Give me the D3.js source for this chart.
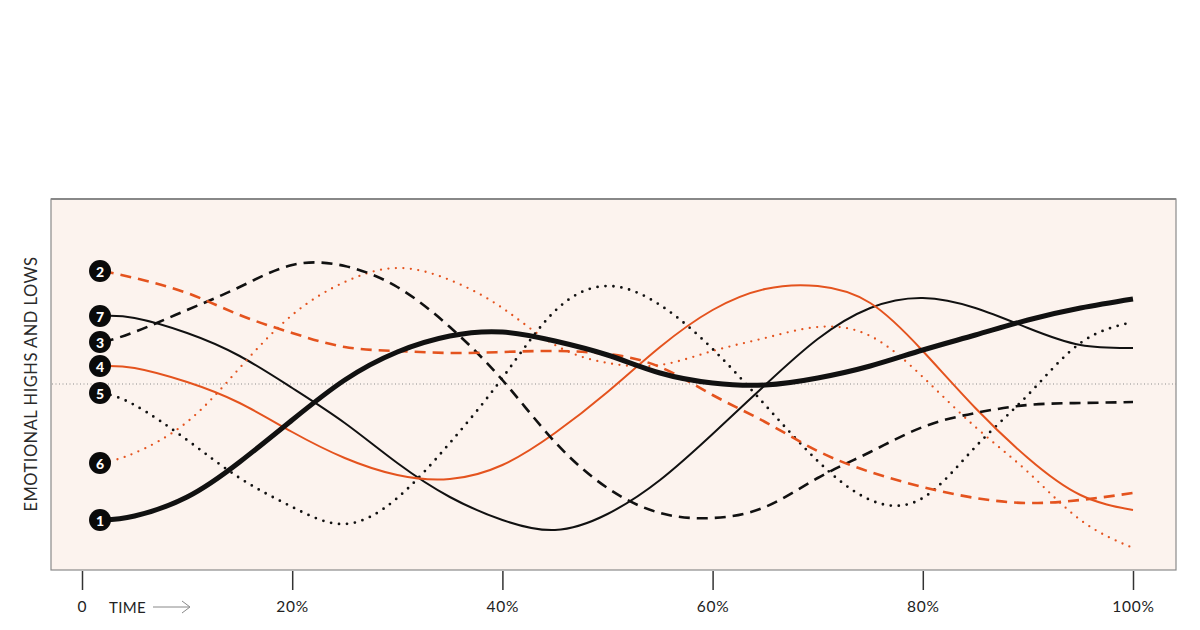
<!DOCTYPE html>
<html>
<head>
<meta charset="utf-8">
<script src="https://cdn.jsdelivr.net/npm/d3@7"></script>
<style>
  html, body { margin: 0; padding: 0; background: #ffffff; }
  svg { display: block; }
  text { font-family: Lato, "Noto Sans", sans-serif; }
</style>
</head>
<body>
<svg id="chart" width="1200" height="630"></svg>
<script>
// ---- data (time in % of story, emotional score; 0 = neutral) ----
const timePoints = [2, 5, 10, 15, 20, 25, 30, 35, 40, 45, 50, 55, 60, 65, 70, 75, 80, 85, 90, 95, 100];

const series1 = [-13.6, -13.2, -11.3, -7.8, -3.6, 0.4, 3.2, 4.8, 5.2, 4.3, 2.9, 1.1, 0.1, -0.1, 0.6, 1.8, 3.4, 4.9, 6.4, 7.6, 8.5];
const series2 = [11.3, 10.6, 9.1, 6.9, 5.1, 3.7, 3.3, 3.1, 3.2, 3.3, 3.0, 1.7, -1.1, -3.8, -6.7, -8.8, -10.3, -11.4, -11.9, -11.6, -10.9];
const series3 = [4.2, 5.2, 7.4, 9.7, 11.9, 11.8, 9.7, 5.7, 0.4, -5.8, -10.4, -12.9, -13.4, -12.3, -9.4, -6.8, -4.3, -2.9, -2.1, -1.9, -1.8];
const series4 = [1.8, 1.6, 0.2, -1.9, -4.8, -7.4, -9.1, -9.5, -8.1, -4.9, -0.8, 3.7, 7.4, 9.5, 9.8, 8.1, 3.3, -2.4, -7.4, -11.1, -12.6];
const series5 = [-0.9, -2.1, -5.6, -9.4, -12.3, -14.0, -11.4, -5.9, 0.6, 7.3, 9.8, 7.9, 3.5, -2.1, -7.7, -11.6, -11.4, -6.3, -1.1, 4.1, 6.2];
const series6 = [-7.9, -6.9, -3.8, 1.6, 6.9, 10.2, 11.6, 10.4, 7.6, 3.9, 2.1, 1.9, 3.3, 4.6, 5.7, 4.8, 0.7, -4.3, -8.8, -13.6, -16.4];
const series7 = [6.8, 6.6, 5.1, 2.8, -0.4, -3.9, -7.9, -11.3, -13.6, -14.6, -13.0, -9.6, -5.0, -0.1, 4.5, 7.6, 8.6, 7.6, 5.6, 3.9, 3.6];

const seriesLabels = ["1", "2", "3", "4", "5", "6", "7"];
const tickValues = [0, 20, 40, 60, 80, 100];
const tickLabels = ["0", "20%", "40%", "60%", "80%", "100%"];
const yAxisTitle = "EMOTIONAL HIGHS AND LOWS";
const xAxisTitle = "TIME";

// ---- styling (kept separate from data) ----
const BLACK = "#111111";
const ORANGE = "#e4531e";
const styles = {
  "1": { color: BLACK, width: 5, dash: null, cap: "butt" },
  "2": { color: ORANGE, width: 2.6, dash: "11,7", cap: "butt" },
  "3": { color: BLACK, width: 2.6, dash: "11,7", cap: "butt" },
  "4": { color: ORANGE, width: 2, dash: null, cap: "butt" },
  "5": { color: BLACK, width: 2.8, dash: "0,8", cap: "round" },
  "6": { color: ORANGE, width: 2.3, dash: "0,7.5", cap: "round" },
  "7": { color: BLACK, width: 2, dash: null, cap: "butt" }
};
const allSeries = [series1, series2, series3, series4, series5, series6, series7];

const svg = d3.select("#chart");

// panel
const panel = { left: 51, right: 1176, top: 199, bottom: 570 };

const x = d3.scaleLinear().domain([0, 100]).range([82, 1133]);
const y = d3.scaleLinear().domain([-18.6, 18.5]).range([panel.bottom, panel.top]);

svg.append("rect")
  .attr("x", panel.left).attr("y", panel.top)
  .attr("width", panel.right - panel.left).attr("height", panel.bottom - panel.top)
  .attr("fill", "#fcf3ee")
  .attr("stroke", "#8a8a8a").attr("stroke-width", 1.2);
svg.append("line")
  .attr("x1", panel.left).attr("x2", panel.right)
  .attr("y1", panel.top).attr("y2", panel.top)
  .attr("stroke", "#888").attr("stroke-width", 2);

// neutral line
svg.append("line")
  .attr("x1", panel.left + 1).attr("x2", panel.right)
  .attr("y1", y(0)).attr("y2", y(0))
  .attr("stroke", "#8c8c8c").attr("stroke-width", 1)
  .attr("stroke-dasharray", "1,2.5");

// x axis
const xAxis = d3.axisBottom(x)
  .tickValues(tickValues)
  .tickSize(19)
  .tickPadding(11)
  .tickFormat((d, i) => tickLabels[i]);
const gx = svg.append("g")
  .attr("transform", `translate(0,${panel.bottom + 1})`)
  .call(xAxis);
gx.select(".domain").remove();
gx.selectAll(".tick line").attr("stroke", "#333").attr("stroke-width", 1.5);
gx.selectAll(".tick text")
  .attr("fill", "#222")
  .style("font-size", "15.5px")
  .style("font-weight", "400")
  .style("letter-spacing", "0.8px");

// TIME label with arrow
svg.append("text")
  .attr("x", 109).attr("y", 613)
  .attr("fill", "#222")
  .style("font-size", "15px")
  .style("letter-spacing", "0.3px")
  .text(xAxisTitle);
svg.append("line")
  .attr("x1", 153).attr("x2", 189)
  .attr("y1", 607).attr("y2", 607)
  .attr("stroke", "#888").attr("stroke-width", 1);
svg.append("path")
  .attr("d", "M182,601 L190,607 L182,613")
  .attr("fill", "none")
  .attr("stroke", "#888").attr("stroke-width", 1);

// y axis title
svg.append("text")
  .attr("transform", `translate(37,${y(0)}) rotate(-90)`)
  .attr("text-anchor", "middle")
  .attr("fill", "#2a2a2a")
  .style("font-size", "16.5px")
  .style("font-weight", "400")
  .style("letter-spacing", "0.5px")
  .text(yAxisTitle);

// lines
const line = d3.line()
  .x((d, i) => x(timePoints[i]))
  .y(d => y(d))
  .curve(d3.curveNatural);

const drawOrder = [6, 5, 4, 3, 2, 1, 0];
drawOrder.forEach(idx => {
  const label = seriesLabels[idx];
  const st = styles[label];
  svg.append("path")
    .datum(allSeries[idx])
    .attr("d", line)
    .attr("fill", "none")
    .attr("stroke", st.color)
    .attr("stroke-width", st.width)
    .attr("stroke-linecap", st.cap)
    .attr("stroke-dasharray", st.dash);
});

// badges
allSeries.forEach((s, idx) => {
  const cx = x(timePoints[0]) - 3;
  const cy = y(s[0]);
  const g = svg.append("g");
  g.append("circle")
    .attr("cx", cx).attr("cy", cy).attr("r", 11)
    .attr("fill", "#0a0a0a");
  g.append("text")
    .attr("x", cx).attr("y", cy + 0.5)
    .attr("text-anchor", "middle")
    .attr("dominant-baseline", "central")
    .attr("fill", "#fff")
    .style("font-size", "14px")
    .style("font-weight", "900")
    .text(seriesLabels[idx]);
});
</script>
</body>
</html>
